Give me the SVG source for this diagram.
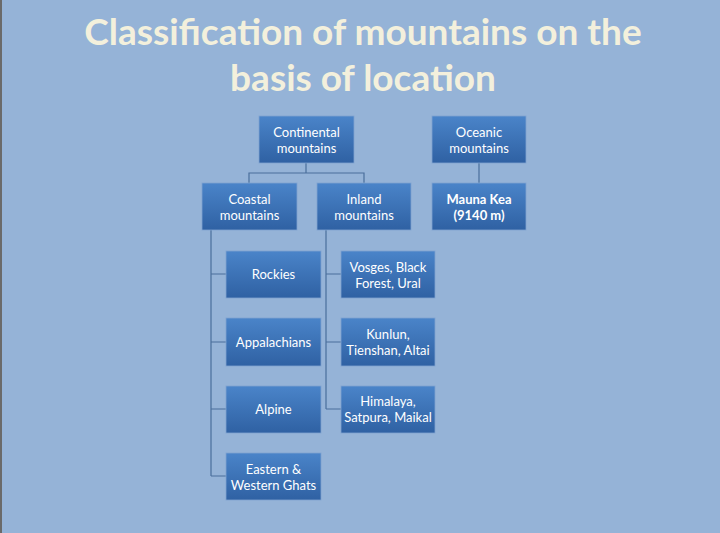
<svg xmlns="http://www.w3.org/2000/svg" width="720" height="533" viewBox="0 0 720 533">
<defs>
<linearGradient id="g" x1="0" y1="0" x2="0" y2="1"><stop offset="0" stop-color="#4a84c9"/><stop offset="1" stop-color="#2f61a3"/></linearGradient>
<style>
.b{fill:url(#g);stroke:#7fa3d0;stroke-width:0.8}
.t{font-family:Lato,"Liberation Sans",sans-serif;font-size:13px;fill:#fff;text-anchor:middle}
.c{stroke:#4a6e9c;stroke-width:1.2;fill:none}
</style>
</defs>
<rect width="720" height="533" fill="#95b3d7"/>
<rect width="2" height="533" fill="#6a6a6a"/>
<text x="363" y="45" font-family="Lato,'Liberation Sans',sans-serif" font-weight="bold" font-size="37" fill="#f3f0dc" text-anchor="middle">Classification of mountains on the</text>
<text x="363" y="91" font-family="Lato,'Liberation Sans',sans-serif" font-weight="bold" font-size="37" fill="#f3f0dc" text-anchor="middle">basis of location</text>
<g id="connectors" class="c">
<path d="M306 163V173M249 183V173H364V183M479 163V183"/>
<path d="M211 230V476M211 274H226M211 342H226M211 409H226M211 476H226"/>
<path d="M326 230V409M326 274H341M326 342H341M326 409H341"/>
</g>
<g id="continental"><rect class="b" x="259" y="116" width="95" height="47"/><text class="t" x="306.5" y="137">Continental</text><text class="t" x="306.5" y="153">mountains</text></g>
<g id="oceanic"><rect class="b" x="432" y="116" width="94" height="47"/><text class="t" x="479" y="137">Oceanic</text><text class="t" x="479" y="153">mountains</text></g>
<g id="coastal"><rect class="b" x="202" y="183" width="95" height="47"/><text class="t" x="249.5" y="204">Coastal</text><text class="t" x="249.5" y="220">mountains</text></g>
<g id="inland"><rect class="b" x="317" y="183" width="94" height="47"/><text class="t" x="364" y="204">Inland</text><text class="t" x="364" y="220">mountains</text></g>
<g id="maunakea"><rect class="b" x="432" y="183" width="94" height="47"/><text class="t" x="479" y="204" font-weight="bold">Mauna Kea</text><text class="t" x="479" y="220" font-weight="bold">(9140 m)</text></g>
<g id="rockies"><rect class="b" x="226" y="251" width="95" height="47"/><text class="t" x="273.5" y="279">Rockies</text></g>
<g id="appalachians"><rect class="b" x="226" y="318" width="95" height="48"/><text class="t" x="273.5" y="347">Appalachians</text></g>
<g id="alpine"><rect class="b" x="226" y="386" width="95" height="47"/><text class="t" x="273.5" y="414">Alpine</text></g>
<g id="ghats"><rect class="b" x="226" y="453" width="95" height="47"/><text class="t" x="273.5" y="474">Eastern &amp;</text><text class="t" x="273.5" y="490">Western Ghats</text></g>
<g id="vosges"><rect class="b" x="341" y="251" width="94" height="47"/><text class="t" x="388" y="272">Vosges, Black</text><text class="t" x="388" y="288">Forest, Ural</text></g>
<g id="kunlun"><rect class="b" x="341" y="318" width="94" height="48"/><text class="t" x="388" y="339">Kunlun,</text><text class="t" x="388" y="355">Tienshan, Altai</text></g>
<g id="himalaya"><rect class="b" x="341" y="386" width="94" height="47"/><text class="t" x="388" y="406">Himalaya,</text><text class="t" x="388" y="422">Satpura, Maikal</text></g>
</svg>
